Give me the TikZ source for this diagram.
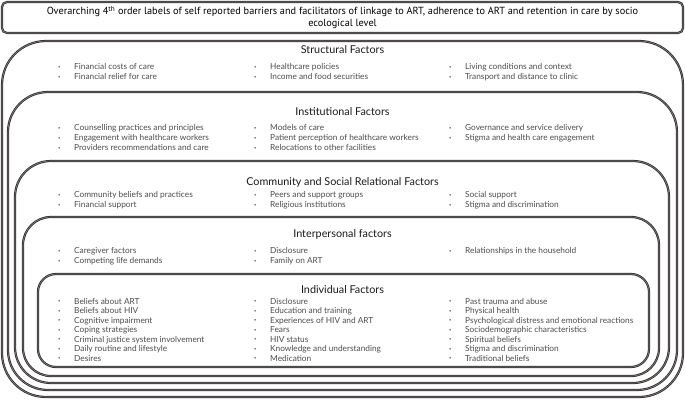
\documentclass[tikz,border=0pt]{standalone}
\usepackage{fontspec}
\setmainfont{Lato}
\newfontfamily\headfont{PT Sans}
\usetikzlibrary{positioning}
\definecolor{boxline}{RGB}{50,46,44}
\definecolor{itemgray}{RGB}{75,75,75}
\newcommand{\bul}{\makebox[16pt][l]{\raisebox{1.3pt}{\fontsize{4}{4}\selectfont\textbullet}}}

\begin{document}
\begin{tikzpicture}[x=1pt,y=-1pt,
  levelbox/.style={draw=boxline,double=black!50,double distance=0.6pt,line width=0.8pt},
  levelname/.style={font=\fontsize{10.8}{12}\selectfont,text=black!90,inner sep=0pt},
  itemlist/.style={anchor=north west,align=left,inner sep=0pt,text=itemgray,
    font=\fontsize{8.3}{9.9}\selectfont}]
  \useasboundingbox (0,0) rectangle (685,400);
  % nested levels, outermost first
  \draw[levelbox,rounded corners=44](2,41) rectangle (683,397);
  \draw[levelbox,rounded corners=40](8,92) rectangle (677,390);
  \draw[levelbox,rounded corners=36](15,161) rectangle (669,383);
  \draw[levelbox,rounded corners=28](23,217) rectangle (659,376);
  \draw[levelbox,rounded corners=18](38,274) rectangle (649,367);
  % heading
  \node[levelbox,rounded corners=5,minimum width=681,minimum height=31,inner sep=0pt,
    align=center,font=\headfont\fontsize{10.3}{12}\selectfont] (overarch) at (342.5,17.5)
    {Overarching 4\textsuperscript{th} order labels of self reported barriers and facilitators of linkage to ART, adherence to ART and retention in care by socio\\ecological level};
  % structural
  \node[levelname] (structural) at (342.5,50) {Structural Factors};
  \node[itemlist] (structA) at (58,63.2) {\bul Financial costs of care\\\bul Financial relief for care};
  \node[itemlist] (structB) at (254,63.2) {\bul Healthcare policies\\\bul Income and food securities};
  \node[itemlist] (structC) at (449,63.2) {\bul Living conditions and context\\\bul Transport and distance to clinic};
  % institutional
  \node[levelname] (institutional) at (342.5,112) {Institutional Factors};
  \node[itemlist] (instA) at (58,124.2) {\bul Counselling practices and principles\\\bul Engagement with healthcare workers\\\bul Providers recommendations and care};
  \node[itemlist] (instB) at (254,124.2) {\bul Models of care\\\bul Patient perception of healthcare workers\\\bul Relocations to other facilities};
  \node[itemlist] (instC) at (449,124.2) {\bul Governance and service delivery\\\bul Stigma and health care engagement};
  % community
  \node[levelname] (community) at (342.5,182) {Community and Social Relational Factors};
  \node[itemlist] (commA) at (58,191.2) {\bul Community beliefs and practices\\\bul Financial support};
  \node[itemlist] (commB) at (254,191.2) {\bul Peers and support groups\\\bul Religious institutions};
  \node[itemlist] (commC) at (449,191.2) {\bul Social support\\\bul Stigma and discrimination};
  % interpersonal
  \node[levelname] (interpersonal) at (342.5,234) {Interpersonal factors};
  \node[itemlist] (interA) at (58,247.2) {\bul Caregiver factors\\\bul Competing life demands};
  \node[itemlist] (interB) at (254,247.2) {\bul Disclosure\\\bul Family on ART};
  \node[itemlist] (interC) at (449,247.2) {\bul Relationships in the household};
  % individual
  \node[levelname] (individual) at (342.5,290) {Individual Factors};
  \node[itemlist,font=\fontsize{8.3}{9.5}\selectfont] (indivA) at (58,297.7) {\bul Beliefs about ART\\\bul Beliefs about HIV\\\bul Cognitive impairment\\\bul Coping strategies\\\bul Criminal justice system involvement\\\bul Daily routine and lifestyle\\\bul Desires};
  \node[itemlist,font=\fontsize{8.3}{9.5}\selectfont] (indivB) at (254,297.7) {\bul Disclosure\\\bul Education and training\\\bul Experiences of HIV and ART\\\bul Fears\\\bul HIV status\\\bul Knowledge and understanding\\\bul Medication};
  \node[itemlist,font=\fontsize{8.3}{9.5}\selectfont] (indivC) at (449,297.7) {\bul Past trauma and abuse\\\bul Physical health\\\bul Psychological distress and emotional reactions\\\bul Sociodemographic characteristics\\\bul Spiritual beliefs\\\bul Stigma and discrimination\\\bul Traditional beliefs};
\end{tikzpicture}
\end{document}
